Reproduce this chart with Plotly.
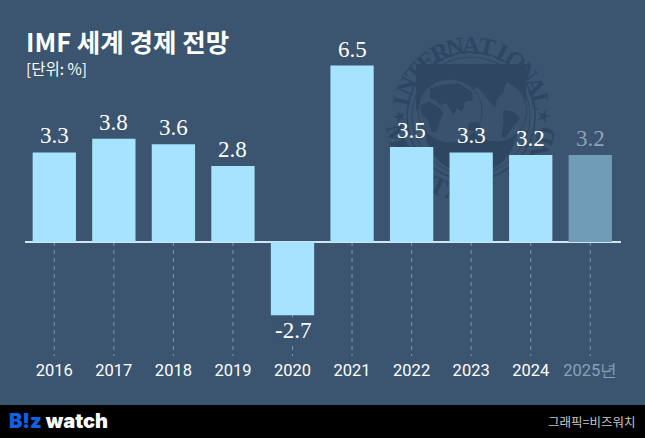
import math

import plotly.graph_objects as go

years = ["2016", "2017", "2018", "2019", "2020", "2021", "2022", "2023", "2024", "2025"]
tick_labels = years[:-1] + ['<span style="color:#8ba1b9">2025년</span>']
growth = [3.3, 3.8, 3.6, 2.8, -2.7, 6.5, 3.5, 3.3, 3.2, 3.2]
bar_colors = ["#a5e3ff"] * 9 + ["#709cb8"]
label_colors = ["#ffffff"] * 9 + ["#8ba1b9"]

BG = "#3b5470"
SEAL = "#2f4662"
WIDTH, HEIGHT = 645, 438
PLOT_L, PLOT_R, PLOT_B = 25, 621, 356


# pixel helpers for the decoration (seal, footer), paper coords run past the plot area
def px(x):
    return (x - PLOT_L) / (PLOT_R - PLOT_L)


def py(y):
    return 1 - y / PLOT_B


def poly(points):
    coords = [(px(x / 3 + 375), py(y / 3 + 20)) for x, y in points]
    return "M " + " L ".join(f"{x:.4f},{y:.4f}" for x, y in coords) + " Z"


def seal_circle(cx, cy, r, **kwargs):
    return dict(type="circle", xref="paper", yref="paper", layer="below",
                x0=px(cx - r), x1=px(cx + r), y0=py(cy + r), y1=py(cy - r), **kwargs)


def seal_letter(char, angle, radius=74, size=25):
    # angle is in degrees from the top of the seal, clockwise
    cx = 471 + radius * math.sin(math.radians(angle))
    cy = 116 - radius * math.cos(math.radians(angle))
    rotate = angle if abs(angle) < 95 else angle - 180
    return dict(type="rect", xref="paper", yref="paper", layer="below",
                x0=px(cx - 1), x1=px(cx + 1), y0=py(cy + 1), y1=py(cy - 1),
                line=dict(width=0), fillcolor="rgba(0,0,0,0)",
                label=dict(text=f"<b>{char}</b>", textangle=rotate, textposition="middle center",
                           font=dict(family="Liberation Serif", size=size, color=SEAL)))


shapes = [
    # seal rings
    seal_circle(471, 116, 64, line=dict(color=SEAL, width=1.5), fillcolor="rgba(0,0,0,0)"),
    seal_circle(471, 116, 59, line=dict(color=SEAL, width=1), fillcolor="rgba(0,0,0,0)"),
    dict(type="rect", xref="paper", yref="paper", layer="below", x0=px(416), x1=px(526),
         y0=py(110), y1=py(64), fillcolor=SEAL, line=dict(width=0)),
    seal_circle(471, 128, 46, line=dict(width=0), fillcolor=SEAL),
    seal_circle(496, 111, 31, line=dict(color=SEAL, width=1), fillcolor="#3a526e"),
    seal_circle(450, 111, 32, line=dict(color=SEAL, width=1), fillcolor="#3a526e"),
]

continents = [
    [(165, 205), (200, 195), (250, 190), (290, 215), (295, 240), (270, 245), (262, 275), (245, 265),
     (235, 285), (215, 250), (195, 255), (180, 240), (165, 235)],
    [(135, 255), (165, 245), (195, 265), (205, 280), (195, 300), (185, 335), (170, 335), (160, 300),
     (140, 285)],
    [(280, 310), (305, 305), (318, 320), (300, 335), (280, 330)],
    [(305, 195), (350, 180), (395, 185), (385, 215), (365, 240), (360, 265), (340, 240), (320, 215)],
    [(385, 270), (415, 275), (435, 295), (410, 325), (390, 355), (378, 350), (385, 310)],
]
for land in continents:
    shapes.append(dict(type="path", xref="paper", yref="paper", layer="below", path=poly(land),
                       fillcolor=SEAL, line=dict(width=0)))

top_text = "INTERNATIONAL"
for i, ch in enumerate(top_text):
    shapes.append(seal_letter(ch, -78 + i * 156 / (len(top_text) - 1)))
bottom_text = "MONETARY FUND"
for i, ch in enumerate(bottom_text):
    if ch != " ":
        shapes.append(seal_letter(ch, 255 - i * 150 / (len(bottom_text) - 1)))
for star_angle in (-90, 90):
    shapes.append(seal_letter("★", star_angle, size=14))

# dashed guide under every bar, category axes want the index here, "2016" reads as a position
for i in range(len(years)):
    shapes.append(dict(type="line", xref="x", yref="y", layer="below", x0=i, x1=i,
                       y0=0, y1=-4.2, line=dict(color="#8096ad", width=1, dash="4px,4px")))

# footer band
shapes.append(dict(type="rect", xref="paper", yref="paper", layer="below", x0=px(0), x1=px(WIDTH),
                   y0=py(HEIGHT), y1=py(405), fillcolor="#000000", line=dict(width=0)))

fig = go.Figure(go.Bar(x=years, y=growth, width=0.727, marker=dict(color=bar_colors, line=dict(width=0)),
                       hoverinfo="skip"))

annotations = []
for i, (value, color) in enumerate(zip(growth, label_colors)):
    annotations.append(dict(x=i, y=value, xref="x", yref="y", text=f"{value:.1f}", showarrow=False,
                            yanchor="bottom" if value > 0 else "top", yshift=3 if value > 0 else -2,
                            font=dict(family="Liberation Serif", size=23, color=color),
                            bgcolor=BG if value < 0 else "rgba(0,0,0,0)", borderpad=0))

annotations += [
    dict(xref="paper", yref="paper", x=px(24), y=py(40), xanchor="left", yanchor="middle", showarrow=False,
         text="<b>IMF 세계 경제 전망</b>", font=dict(family="Noto Sans CJK KR", size=25.5, color="#ffffff")),
    dict(xref="paper", yref="paper", x=px(24), y=py(68.5), xanchor="left", yanchor="middle", showarrow=False,
         text="[단위: %]", font=dict(family="Noto Sans CJK KR", size=15.5, color="#ffffff")),
    dict(xref="paper", yref="paper", x=px(7), y=py(421), xanchor="left", yanchor="middle", showarrow=False,
         text='<span style="color:#0f62e6">B!z</span> watch',
         font=dict(family="Inter", size=20, color="#ffffff", weight=900)),
    dict(xref="paper", yref="paper", x=px(636.5), y=py(422), xanchor="right", yanchor="middle", showarrow=False,
         text="그래픽=비즈워치", font=dict(family="Noto Sans CJK KR", size=12.5, color="#c9c9c9")),
]

fig.update_layout(
    width=WIDTH, height=HEIGHT,
    margin=dict(l=PLOT_L, r=WIDTH - PLOT_R, t=0, b=HEIGHT - PLOT_B, pad=0),
    paper_bgcolor=BG, plot_bgcolor="rgba(0,0,0,0)",
    showlegend=False, shapes=shapes, annotations=annotations,
)
fig.update_xaxes(type="category", categoryorder="array", categoryarray=years,
                 tickmode="array", tickvals=years, ticktext=tick_labels,
                 range=[-0.492, 9.516], showgrid=False, showline=False, ticks="",
                 tickfont=dict(family="Roboto", size=16.5, color="#ffffff"), ticklabelstandoff=2,
                 tickangle=0)
fig.update_yaxes(range=[-4.199, 8.913], showgrid=False, showticklabels=False, ticks="",
                 zeroline=True, zerolinecolor="#cfe6f3", zerolinewidth=1.5)

fig.write_html("out.html", config={"displayModeBar": False},
               post_script="document.body.style.margin='0';")
